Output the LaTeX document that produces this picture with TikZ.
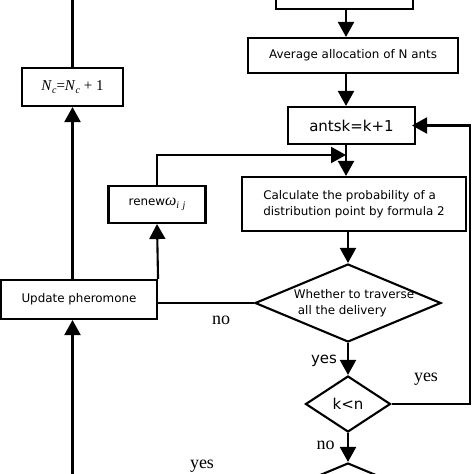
\documentclass[tikz,border=0pt]{standalone}
\usepackage{fontspec}
\setsansfont{DejaVu Sans}
\setmainfont{Liberation Serif}
\usetikzlibrary{arrows.meta,shapes.geometric}
\newcommand{\subit}[1]{\raisebox{-2.5pt}{\fontsize{10}{10}\selectfont\itshape #1}}
\begin{document}
\begin{tikzpicture}[x=1pt,y=-1pt,
  box/.style={draw, line width=2.1pt, rectangle, inner sep=0pt, font=\sffamily\fontsize{11.9}{15.5}\selectfont},
  dia/.style={draw, line width=2.1pt, diamond, inner sep=-4pt, font=\sffamily\fontsize{11.9}{15.5}\selectfont},
  arr/.style={line width=2.1pt, -{Triangle[length=15pt,width=16pt]}},
  ln/.style={line width=2.1pt},
  serif/.style={font=\rmfamily\fontsize{18}{20}\selectfont, inner sep=0pt},
  big/.style={font=\sffamily\fontsize{15}{18}\selectfont, inner sep=0pt}]
\clip (0,0) rectangle (474,474);
\fill[white] (0,0) rectangle (474,474);
% nodes
\node[box, minimum width=137pt, minimum height=40pt] (top) at (344.5,-11) {};
\node[box, minimum width=210pt, minimum height=35pt] (avg) at (353,55.5) {Average allocation of N ants};
\node[box, big, inner sep=0pt, draw, line width=2.1pt, minimum width=127pt, minimum height=37pt] (ants) at (351.5,125.5) {antsk=k+1};
\node[box, align=left, minimum width=224pt, minimum height=54pt] (calc) at (354,204) {Calculate the probability of a\\distribution point by formula 2};
\node[dia, shape aspect=2.4, align=left, minimum width=186pt, minimum height=78pt] (d1) at (348,303) {\hspace*{12pt}Whether to traverse\\\hspace*{16pt}all the delivery};
\node[dia, big, draw, line width=2.1pt, inner sep=0pt, shape aspect=1.5, minimum width=85pt, minimum height=56pt] (kn) at (348,404) {k<n};
\node[dia, shape aspect=2.4, minimum width=186pt, minimum height=78pt] (d3) at (348,502) {};
\node[box, font=\rmfamily\fontsize{15}{17}\selectfont, minimum width=101pt, minimum height=38pt] (nc) at (72.5,87) {\textit{N}\subit{c}=\textit{N}\subit{c} + 1};
\node[box, minimum width=97pt, minimum height=37pt] (renew) at (157,204.5) {renew{\rmfamily\fontsize{16}{17}\selectfont\itshape ω\subit{i\,\,j}}};
\node[box, minimum width=156pt, minimum height=39pt] (upd) at (79,299.5) {Update pheromone};
% labels
\node[serif] (no1) at (221,320) {no};
\node[big] (yes1) at (324,360.5) {yes};
\node[serif] (yes2) at (426,379) {yes};
\node[serif] (no2) at (325.5,445.5) {no};
\node[serif] (yes3) at (202,466) {yes};
% coordinates
\coordinate (col) at (346,0);
\coordinate (rr) at (470,0);
\coordinate (j) at (346,155);
\coordinate (tl) at (72.5,-20);
\coordinate (bl) at (72.5,490);
% connectors
\draw[arr] (top.south -| col) -- (avg.north -| col);
\draw[arr] (avg.south -| col) -- (ants.north -| col);
\draw[arr] (ants.south -| col) -- (calc.north -| col);
\draw[arr] (calc.south -| d1) -- (d1.north);
\draw[arr] (d1.south) -- (kn.north);
\draw[arr] (kn.south) -- (d3.north);
\draw[arr, shorten >=-4pt] (kn.east) -- (kn.east -| rr) -- (rr |- ants.east) -- (ants.east);
\draw[arr] (renew.north) |- (j);
\draw[arr] (upd.north east) -- (renew.south);
\draw[arr] (upd.north -| nc) -- (nc.south);
\draw[ln] (nc.north) -- (tl);
\draw[ln] (d1.west) -- (d1.west -| upd.east);
\draw[arr] (bl) -- (upd.south -| nc);
\end{tikzpicture}
\end{document}
